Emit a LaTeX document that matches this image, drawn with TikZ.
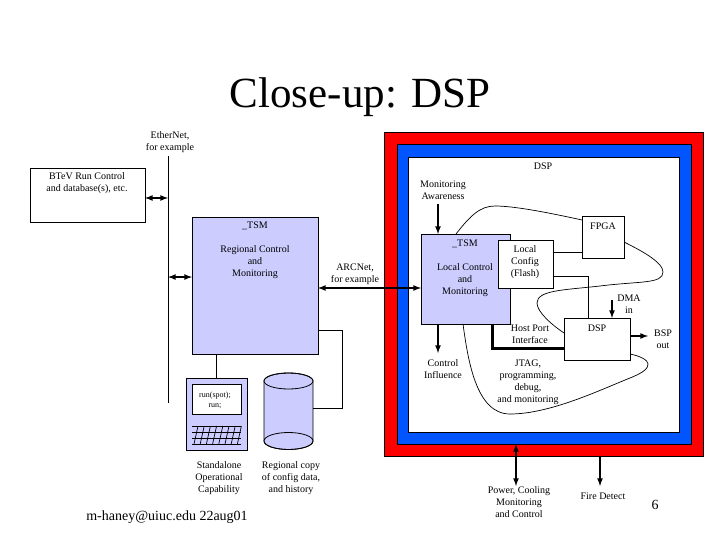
\documentclass[tikz,border=0pt]{standalone}
\usepackage{fontspec}
\setmainfont{Liberation Serif}
\usetikzlibrary{calc,arrows}
\definecolor{tsmfill}{HTML}{CCCCFF}
\definecolor{shellred}{HTML}{FF0000}
\definecolor{shellblue}{HTML}{0055FF}
\tikzset{
    box/.style={draw,line width=.8pt,inner sep=0pt,outer sep=0pt},
    tsm/.style={box,fill=tsmfill},
    lab/.style={align=center,inner sep=0pt,font=\fontsize{10}{12}\selectfont},
    link/.style={line width=1.6pt},
    wire/.style={line width=.7pt},
}
\begin{document}
\begin{tikzpicture}[>=latex,x=1pt,y=-1pt]
    \useasboundingbox (0,0) rectangle (720,540);

    % enclosure
    \node[box,fill=shellred,minimum width=319pt,minimum height=324pt] (red) at (543.5,294) {};
    \node[box,fill=shellblue,minimum width=294pt,minimum height=300pt] (blue) at (544,294) {};
    \node[box,fill=white,minimum width=271pt,minimum height=275pt] (inner) at (543.5,294.5) {};

    % boxes
    \node[box,minimum width=115pt,minimum height=54pt] (btev) at (87.5,195) {};
    \node[tsm,minimum width=126pt,minimum height=137pt] (region) at (255,285.5) {};
    \node[tsm,minimum width=89pt,minimum height=90pt] (local) at (465.5,279) {};
    \node[box,fill=white,minimum width=55pt,minimum height=48pt] (flash) at (525.5,264) {};
    \node[box,minimum width=42pt,minimum height=42pt] (fpga) at (603,237) {};
    \node[box,minimum width=66pt,minimum height=42pt] (dsp) at (597,339) {};

    % terminal
    \node[tsm,minimum width=61pt,minimum height=72pt] (term) at (216.5,414) {};
    \node[box,fill=white,minimum width=49pt,minimum height=30pt] (screen) at (216.5,399) {};
    \coordinate (K1) at (192,426);
    \foreach \y in {0,6,12,18}
        \draw[wire] ($(K1)+(0,\y)$) -- ($(K1)+(49,\y)$);
    \foreach \x in {0,...,7}
        \draw[wire] ($(K1)+(\x*6.2+2,18)$) -- ($(K1)+(\x*6.2+6,0)$);

    % disk
    \coordinate (DT) at (288.5,381);
    \coordinate (DB) at (288.5,441);
    \draw[box,fill=tsmfill] (264,381) -- (264,441) arc[start angle=180,end angle=0,x radius=24.5,y radius=8.5]
        -- (313,381) arc[start angle=0,end angle=-180,x radius=24.5,y radius=8] -- cycle;
    \draw[box] (DT) ellipse[x radius=24.5,y radius=8];
    \draw[box] (DB) ellipse[x radius=24.5,y radius=8.5];
    \coordinate (DR) at (313,408);

    % bus
    \coordinate (BusTop) at (168,156);
    \coordinate (BusEnd) at (168,403);
    \draw[wire] (BusTop) -- (BusEnd);
    \coordinate (E) at ($(BusTop)!.1700!(BusEnd)$);
    \coordinate (F) at ($(BusTop)!.4900!(BusEnd)$);
    \draw[link,<->] (btev.east |- E) -- (E);
    \draw[link,<->] (F) -- (region.west |- F);

    % links out of the regional box
    \coordinate (G) at (318,288);
    \draw[link,<->] (G) -- (local.west |- G);
    \coordinate (H) at (342,330);
    \draw[wire] (region.east |- H) -- (H) -- (H |- DR) -- (DR);
    \coordinate (J) at (216.5,354);
    \draw[wire] (J) -- (term.north);

    % local box, top and bottom
    \coordinate (MonTop) at (438,204);
    \draw[link,->] (MonTop) -- (MonTop |- local.north);
    \coordinate (CtlEnd) at (438,353);
    \draw[link,->] (CtlEnd |- local.south) -- (CtlEnd);
    \coordinate (I) at (492,324);
    \coordinate (IB) at (492,348);
    \draw[line width=3pt] (I) -- (IB) -- (dsp.west |- IB);

    % local wiring
    \coordinate (K) at (553,252);
    \draw[wire] (K) -- (fpga.west |- K);
    \coordinate (L) at (553,276);
    \coordinate (M) at (588,276);
    \draw[wire] (L) -- (M) -- (M |- dsp.north);
    \coordinate (DmaTop) at (612,300);
    \draw[link,->] (DmaTop) -- (DmaTop |- dsp.north);
    \coordinate (BspEnd) at (648,336);
    \draw[link,->] (dsp.east |- BspEnd) -- (BspEnd);

    % curves
    \draw[wire] (456,234) .. controls (470,216) and (480,206) .. (495,206)
        .. controls (515,206) and (550,213) .. (582,220);
    \draw[wire] (624,242) .. controls (640,250) and (663,262) .. (663,272)
        .. controls (663,284) and (640,281) .. (600,286)
        .. controls (565,290) and (537,290) .. (537,303)
        .. controls (537,312) and (552,325) .. (564,333);
    \draw[wire] (463,324) .. controls (468,360) and (476,414) .. (510,414)
        .. controls (550,414) and (600,390) .. (630,378)
        .. controls (645,372) and (648,368) .. (648,364)
        .. controls (648,360) and (640,356) .. (630,354);

    % outside
    \coordinate (PowEnd) at (516,486);
    \draw[link,<->] (PowEnd |- blue.south) -- (PowEnd);
    \coordinate (FireEnd) at (600,486);
    \draw[link,->] (FireEnd |- red.south) -- (FireEnd);

    % texts
    \node[inner sep=0pt,font=\fontsize{43}{48}\selectfont] (title) at (360,97.5) {Close-up: DSP};
    \node[lab] (ethernet) at (170,142) {EtherNet,\\for example};
    \node[lab] (btevtxt) at (87,183) {BTeV Run Control\\and database(s), etc.};
    \node[lab] (regiontsm) at (255,226) {\_TSM};
    \node[lab] (regiontxt) at (255,262) {Regional Control\\and\\Monitoring};
    \node[lab] (arcnet) at (355,274) {ARCNet,\\for example};
    \node[lab] (dsptop) at (543,166) {DSP};
    \node[lab] (aware) at (443,190) {Monitoring\\Awareness};
    \node[lab] (fpgatxt) at (603,226) {FPGA};
    \node[lab] (localtsm) at (465,244) {\_TSM};
    \node[lab] (localtxt) at (465,280) {Local Control\\and\\Monitoring};
    \node[lab] (flashtxt) at (525,262) {Local\\Config\\(Flash)};
    \node[lab] (dma) at (629,304) {DMA\\in};
    \node[lab] (hpi) at (530,334) {Host Port\\Interface};
    \node[lab] (dsptxt) at (597,328) {DSP};
    \node[lab] (bsp) at (663,339) {BSP\\out};
    \node[lab] (control) at (443,369) {Control\\Influence};
    \node[lab] (jtag) at (528,382) {JTAG,\\programming,\\debug,\\and monitoring};
    \node[lab] (power) at (519,502) {Power, Cooling\\Monitoring\\and Control};
    \node[lab] (fire) at (603,496) {Fire Detect};
    \node[lab,font=\fontsize{8}{10}\selectfont] (spot) at (215,400) {run(spot);\\run;};
    \node[lab] (standalone) at (219,478) {Standalone\\Operational\\Capability};
    \node[lab] (copy) at (291,478) {Regional copy\\of config data,\\and history};
    \node[inner sep=0pt,font=\fontsize{14}{16}\selectfont] (footer) at (167,517) {m-haney@uiuc.edu 22aug01};
    \node[inner sep=0pt,font=\fontsize{14}{16}\selectfont] (page) at (655,505) {6};
\end{tikzpicture}
\end{document}
